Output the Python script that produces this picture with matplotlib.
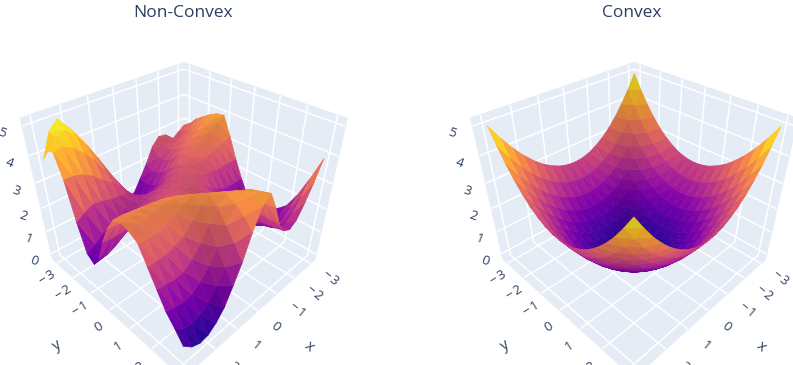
import numpy as np
import matplotlib
matplotlib.use("Agg")
import matplotlib.pyplot as plt
from mpl_toolkits.mplot3d.art3d import Poly3DCollection

plt.rcParams['font.family'] = ['Open Sans', 'DejaVu Sans']

titles = ["Non-Convex", "Convex"]
axis_grid = [-3, -2.6667, -2.3333, -2, -1.6667, -1.3333, -1, -0.6667, -0.3333, 0,
             0.3333, 0.6667, 1, 1.3333, 1.6667, 2, 2.3333, 2.6667, 3]
tick_values = [-3, -2, -1, 0, 1, 2, 3]
z_tick_values = [0, 1, 2, 3, 4, 5]

non_convex = [
 [2.9,2.7,2.5,2.85,2.9,2.6,2.0,1.5,1.0,.85,1.0,1.7,2.6,3.3,4.1,4.6,5.0,4.7,3.9],
 [3.1,2.9,2.6,2.75,2.6,2.3,1.8,1.4,1.05,1.0,1.2,1.9,2.7,3.4,4.0,4.5,4.75,4.65,4.3],
 [3.4,3.1,2.9,2.85,2.6,2.3,1.9,1.5,1.25,1.2,1.4,1.9,2.6,3.1,3.6,4.0,4.3,4.45,4.4],
 [3.6,3.4,3.2,3.0,2.8,2.5,2.1,1.7,1.5,1.5,1.6,1.95,2.4,2.75,3.0,3.3,3.5,3.6,3.6],
 [3.8,3.6,3.4,3.2,3.0,2.75,2.4,2.05,1.85,1.8,1.85,2.0,2.25,2.35,2.4,2.5,2.55,2.4,2.2],
 [3.95,3.8,3.6,3.4,3.2,3.0,2.7,2.4,2.2,2.1,2.1,2.1,2.1,2.0,1.9,1.75,1.55,1.3,1.1],
 [4.0,3.85,3.6,3.4,3.2,3.0,2.8,2.65,2.5,2.4,2.3,2.2,2.1,1.9,1.7,1.45,1.2,.95,.85],
 [3.3,3.2,3.1,3.0,2.95,2.9,2.85,2.75,2.65,2.55,2.5,2.4,2.3,2.1,1.9,1.65,1.45,1.3,1.3],
 [2.5,2.5,2.5,2.5,2.55,2.6,2.7,2.75,2.7,2.65,2.6,2.6,2.55,2.45,2.3,2.2,2.15,2.15,2.2],
 [1.8,1.8,1.8,1.85,2.0,2.2,2.45,2.65,2.7,2.7,2.75,2.8,2.85,2.85,2.8,2.8,2.8,2.85,2.9],
 [1.2,1.2,1.25,1.4,1.6,1.9,2.2,2.5,2.65,2.75,2.85,3.0,3.1,3.2,3.25,3.3,3.35,3.4,3.4],
 [.95,.95,1.0,1.15,1.35,1.7,2.05,2.45,2.7,2.85,3.0,3.2,3.35,3.45,3.5,3.55,3.55,3.55,3.5],
 [1.0,.95,.95,1.05,1.25,1.6,2.0,2.5,2.8,3.0,3.2,3.4,3.55,3.6,3.6,3.55,3.5,3.45,3.4],
 [1.1,1.0,.95,1.0,1.2,1.6,2.1,2.6,3.0,3.25,3.45,3.6,3.7,3.6,3.4,3.25,3.15,3.15,3.2],
 [1.3,1.15,1.05,1.1,1.3,1.7,2.25,2.8,3.25,3.5,3.65,3.7,3.55,3.2,2.85,2.7,2.6,2.6,2.6],
 [1.6,1.4,1.25,1.3,1.5,1.85,2.4,3.0,3.5,3.7,3.75,3.5,3.1,2.6,2.2,1.95,1.9,1.95,2.0],
 [2.2,1.85,1.6,1.5,1.6,1.95,2.5,3.2,3.75,3.85,3.6,3.05,2.45,1.95,1.55,1.3,1.25,1.3,1.4],
 [3.0,2.5,2.05,1.8,1.75,2.0,2.5,3.25,3.85,3.85,3.35,2.6,1.9,1.4,.95,.7,.6,.7,1.0],
 [3.9,3.2,2.6,2.1,1.9,2.05,2.5,3.3,3.95,3.7,3.0,2.1,1.4,.75,.35,.1,.05,.2,.55],
]

convex = [
 [5.00,4.48,4.01,3.61,3.27,2.99,2.78,2.62,2.53,2.50,2.53,2.62,2.78,2.99,3.27,3.61,4.01,4.48,5.00],
 [4.48,3.96,3.49,3.09,2.75,2.47,2.26,2.10,2.01,1.98,2.01,2.10,2.26,2.47,2.75,3.09,3.49,3.96,4.48],
 [4.01,3.49,3.02,2.62,2.28,2.00,1.79,1.63,1.54,1.51,1.54,1.63,1.79,2.00,2.28,2.62,3.02,3.49,4.01],
 [3.61,3.09,2.62,2.22,1.88,1.60,1.39,1.23,1.14,1.11,1.14,1.23,1.39,1.60,1.88,2.22,2.62,3.09,3.61],
 [3.27,2.75,2.28,1.88,1.54,1.26,1.05,.89,.80,.77,.80,.89,1.05,1.26,1.54,1.88,2.28,2.75,3.27],
 [2.99,2.47,2.00,1.60,1.26,.98,.77,.61,.52,.49,.52,.61,.77,.98,1.26,1.60,2.00,2.47,2.99],
 [2.78,2.26,1.79,1.39,1.05,.77,.56,.40,.31,.28,.31,.40,.56,.77,1.05,1.39,1.79,2.26,2.78],
 [2.62,2.10,1.63,1.23,.89,.61,.40,.24,.15,.12,.15,.24,.40,.61,.89,1.23,1.63,2.10,2.62],
 [2.53,2.01,1.54,1.14,.80,.52,.31,.15,.06,.03,.06,.15,.31,.52,.80,1.14,1.54,2.01,2.53],
 [2.50,1.98,1.51,1.11,.77,.49,.28,.12,.03,0,.03,.12,.28,.49,.77,1.11,1.51,1.98,2.50],
 [2.53,2.01,1.54,1.14,.80,.52,.31,.15,.06,.03,.06,.15,.31,.52,.80,1.14,1.54,2.01,2.53],
 [2.62,2.10,1.63,1.23,.89,.61,.40,.24,.15,.12,.15,.24,.40,.61,.89,1.23,1.63,2.10,2.62],
 [2.78,2.26,1.79,1.39,1.05,.77,.56,.40,.31,.28,.31,.40,.56,.77,1.05,1.39,1.79,2.26,2.78],
 [2.99,2.47,2.00,1.60,1.26,.98,.77,.61,.52,.49,.52,.61,.77,.98,1.26,1.60,2.00,2.47,2.99],
 [3.27,2.75,2.28,1.88,1.54,1.26,1.05,.89,.80,.77,.80,.89,1.05,1.26,1.54,1.88,2.28,2.75,3.27],
 [3.61,3.09,2.62,2.22,1.88,1.60,1.39,1.23,1.14,1.11,1.14,1.23,1.39,1.60,1.88,2.22,2.62,3.09,3.61],
 [4.01,3.49,3.02,2.62,2.28,2.00,1.79,1.63,1.54,1.51,1.54,1.63,1.79,2.00,2.28,2.62,3.02,3.49,4.01],
 [4.48,3.96,3.49,3.09,2.75,2.47,2.26,2.10,2.01,1.98,2.01,2.10,2.26,2.47,2.75,3.09,3.49,3.96,4.48],
 [5.00,4.48,4.01,3.61,3.27,2.99,2.78,2.62,2.53,2.50,2.53,2.62,2.78,2.99,3.27,3.61,4.01,4.48,5.00],
]

W, H = 793, 365
TXT = '#2a3f5f'
PANE = '#E5ECF6'
fig = plt.figure(figsize=(W/100, H/100), dpi=100)
cmap = plt.get_cmap('plasma')
norm = plt.Normalize(0, 5)
LIGHT = np.array([0.7, -0.7, 0.15])

def surface(ax, surf):
    Z = np.array(surf)
    G = np.array(axis_grid)
    n = len(G)
    # lighting per node from the slope of the typed table (plotly's soft shading)
    dzdy, dzdx = np.gradient(Z * 0.83 / 5.5, G / 6.6, G / 6.6)
    nlen = np.sqrt(dzdx**2 + dzdy**2 + 1)
    lit = np.minimum(1.0, 0.84 + 0.5 * np.abs(-dzdx * LIGHT[0] - dzdy * LIGHT[1] + LIGHT[2]) / nlen)
    verts, vals, light = [], [], []
    for j in range(n - 1):
        for i in range(n - 1):
            a = (G[i], G[j], Z[j, i])
            b = (G[i+1], G[j], Z[j, i+1])
            c = (G[i], G[j+1], Z[j+1, i])
            d = (G[i+1], G[j+1], Z[j+1, i+1])
            verts += [[a, b, c], [b, d, c]]
            vals += [(Z[j, i] + Z[j, i+1] + Z[j+1, i]) / 3,
                     (Z[j, i+1] + Z[j+1, i+1] + Z[j+1, i]) / 3]
            light += [(lit[j, i] + lit[j, i+1] + lit[j+1, i]) / 3,
                      (lit[j, i+1] + lit[j+1, i+1] + lit[j+1, i]) / 3]
    col = cmap(norm(np.array(vals)))
    col[:, :3] *= np.array(light)[:, None]
    ax.add_collection3d(Poly3DCollection(verts, facecolors=col, edgecolors=col, linewidths=0.4))

def panel(cx, cy, surf, title, tx, lab_x, lab_y):
    size = 420
    ax = fig.add_axes([(cx-size/2)/W, 1-(cy+size/2)/H, size/W, size/H], projection='3d')
    ax.patch.set_alpha(0)
    surface(ax, surf)
    ax.set_xlim(-3.3, 3.3, view_margin=0)
    ax.set_ylim(-3.3, 3.3, view_margin=0)
    ax.set_zlim(-0.25, 5.25, view_margin=0)
    ax.set_proj_type('persp', focal_length=0.2)
    ax.view_init(elev=35.5, azim=45.1)
    ax.set_box_aspect((1, 1, 0.83), zoom=0.78)
    minus = lambda v: str(v).replace('-', '\u2212\u200a')
    for axis, ticks in ((ax.xaxis, tick_values), (ax.yaxis, tick_values), (ax.zaxis, z_tick_values)):
        axis.set_pane_color(PANE)
        axis.pane.set_edgecolor(PANE)
        axis.line.set_color((1, 1, 1, 0))
        axis.set_ticks(ticks)
        axis.set_ticklabels([minus(t) for t in ticks])
        axis._axinfo['grid'].update(color='white', linewidth=1.1)
        axis._axinfo['tick']['inward_factor'] = 0
        axis._axinfo['tick']['outward_factor'] = 0
    ax.tick_params(axis='x', labelsize=9.5, labelcolor=TXT, labelrotation=-40, pad=3)
    ax.tick_params(axis='y', labelsize=9.5, labelcolor=TXT, labelrotation=32, pad=3)
    ax.tick_params(axis='z', labelsize=9.5, labelcolor=TXT, labelrotation=-20, pad=2)
    for lab in ax.xaxis.get_ticklabels():
        lab.set_verticalalignment('center')
        lab.set_horizontalalignment('left')
    for lab in ax.yaxis.get_ticklabels():
        lab.set_verticalalignment('center')
    for lab in ax.zaxis.get_ticklabels():
        lab.set_verticalalignment('top')
    fig.text(lab_x/W, 1-347/H, 'x', color=TXT, fontsize=10.5, rotation=-40, ha='center', va='center')
    fig.text(lab_y/W, 1-346/H, 'y', color=TXT, fontsize=10.5, rotation=32, ha='center', va='center')
    fig.text(tx/W, 1-13/H, title, color=TXT, fontsize=12.5, ha='center', va='center')
    return ax

panel(178, 202, non_convex, titles[0], 183, 309, 57)
panel(628.5, 202, convex, titles[1], 632, 761, 505)
fig.savefig('out.png', dpi=100)
